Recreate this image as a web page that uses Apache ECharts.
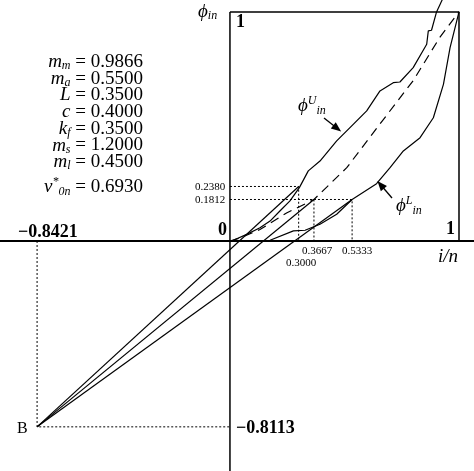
<!DOCTYPE html>
<html><head><meta charset="utf-8">
<script src="https://cdn.jsdelivr.net/npm/echarts@6/dist/echarts.min.js"></script>
<style>html,body{margin:0;padding:0;background:#fff}#c{width:474px;height:471px}</style>
</head><body><div id="c"></div>
<script>
// point B and the marked points
const pointB = [-0.8421, -0.8113]
const tangentPts = [[0.3000, 0.2380], [0.3667, 0.1812], [0.5333, 0.1812]]
// upper bound curve
const upperCurve = [[0,0],[0.015,0.003],[0.073,0.029],[0.131,0.058],[0.175,0.087],[0.218,0.131],[0.262,0.175],
  [0.303,0.233],[0.342,0.306],[0.393,0.349],[0.466,0.437],[0.524,0.495],[0.597,0.568],[0.655,0.655],
  [0.713,0.691],[0.742,0.694],[0.8,0.757],[0.859,0.859],[0.866,0.917],[0.88,0.92],[0.902,1.0]]
// middle (dashed) curve
const midCurve = [[0,0],[0.044,0.013],[0.131,0.05],[0.247,0.122],[0.3667,0.1812],[0.51,0.32],[0.655,0.511],
  [0.8,0.70],[0.917,0.89],[1,1]]
// lower bound curve
const lowerCurve = [[0,0],[0.175,0.003],[0.277,0.044],[0.328,0.047],[0.393,0.073],[0.466,0.117],[0.5333,0.1812],
  [0.64,0.25],[0.699,0.32],[0.757,0.393],[0.83,0.451],[0.888,0.538],[0.932,0.684],[0.961,0.844],[1,1]]
const params = [['m','m','0.9866'],['m','a','0.5500'],['L','','0.3500'],['c','','0.4000'],
  ['k','f','0.3500'],['m','s','1.2000'],['m','l','0.4500']]

const chart = echarts.init(document.getElementById('c'))
const serif = 'Liberation Serif'
const solid = {color:'#000', width:1.2}
function line(data, extra) {
  return Object.assign({type:'line', data, symbol:'none', silent:true, lineStyle:Object.assign({}, solid), z:3}, extra || {})
}
const series = [
  line([[-1.004,0],[1.0655,0]], {lineStyle:{color:'#000', width:2}}),
  line([[0,1],[0,-1.004]], {lineStyle:{color:'#000', width:1.5}}),
  line([[0,1],[1,1],[1,0]], {lineStyle:{color:'#000', width:1.5}}),
  line(upperCurve), line(lowerCurve),
  line(midCurve, {lineStyle:{color:'#000', width:1.2, type:[9,6]}}),
  line([[0.902,1.0],[0.93,1.06]])
]
tangentPts.forEach(p => series.push(line([pointB, p])))
// dotted guides
const dot = {color:'#000', width:1, type:[2,2]}
series.push(line([[pointB[0],0],pointB,[0,pointB[1]]], {lineStyle:dot}))
series.push(line([[0,0.2380],[0.3,0.2380],[0.3,0]], {lineStyle:dot}))
series.push(line([[0,0.1812],[0.5333,0.1812],[0.5333,0]], {lineStyle:dot}))
series.push(line([[0.3667,0.1812],[0.3667,0]], {lineStyle:dot}))

chart.setOption({
  animation:false,
  grid:{left:0,right:0,top:0,bottom:0},
  xAxis:{type:'value', min:-1.004, max:1.0655, show:false},
  yAxis:{type:'value', min:-1.004, max:1.052, show:false},
  series
})

const rich = {
  i:{fontFamily:serif, fontStyle:'italic', fontSize:19, color:'#000'},
  s:{fontFamily:serif, fontStyle:'italic', fontSize:12, color:'#000', verticalAlign:'bottom', padding:[8,0,0,0]},
  u:{fontFamily:serif, fontStyle:'italic', fontSize:12, color:'#000', padding:[0,0,10,0]},
  n:{fontFamily:serif, fontSize:19, color:'#000'}
}
const g = []
function txt(x, y, text, style) {
  g.push({type:'text', x, y, style:Object.assign({text, fontFamily:serif, fill:'#000', rich}, style)})
}
params.forEach((p, k) => {
  const s = `{i|${p[0]}}` + (p[1] ? `{s|${p[1]}}` : '') + `{n| = ${p[2]}}`
  txt(143, 62 + k * 16.7, s, {align:'right', verticalAlign:'middle'})
})
txt(143, 187, '{i|v}{u|*}{s|0n}{n| = 0.6930}', {align:'right', verticalAlign:'middle'})
txt(198, 12, '{i|ϕ}{s|in}', {verticalAlign:'middle'})
txt(236, 22, '1', {fontSize:18, fontWeight:'bold', verticalAlign:'middle'})
txt(446, 229, '1', {fontSize:18, fontWeight:'bold', verticalAlign:'middle'})
txt(218, 230, '0', {fontSize:18, fontWeight:'bold', verticalAlign:'middle'})
txt(18, 232, '\u22120.8421', {fontSize:18, fontWeight:'bold', verticalAlign:'middle'})
txt(236, 428, '\u22120.8113', {fontSize:18, fontWeight:'bold', verticalAlign:'middle'})
txt(17, 429, 'B', {fontSize:16, verticalAlign:'middle'})
txt(438, 257, '{i|i/n}', {verticalAlign:'middle'})
const small = {fontSize:11, verticalAlign:'middle'}
txt(195, 187, '0.2380', small)
txt(195, 200, '0.1812', small)
txt(302, 251, '0.3667', small)
txt(286, 263, '0.3000', small)
txt(342, 251, '0.5333', small)
txt(298, 106, '{i|ϕ}{u|U}{s|in}', {verticalAlign:'middle'})
txt(396, 206, '{i|ϕ}{u|L}{s|in}', {verticalAlign:'middle'})
const arrows = [[[324,118],[338,129]], [[392,198],[380,184]]]
arrows.forEach(a => {
  g.push({type:'line', shape:{x1:a[0][0], y1:a[0][1], x2:a[1][0], y2:a[1][1]}, style:{stroke:'#000', lineWidth:1.3}})
  const dx = a[1][0]-a[0][0], dy = a[1][1]-a[0][1], L = Math.hypot(dx,dy), ux = dx/L, uy = dy/L
  const tip = [a[1][0]+ux*4, a[1][1]+uy*4], bx = tip[0]-ux*10, by = tip[1]-uy*10
  g.push({type:'polygon', shape:{points:[tip,[bx-uy*4,by+ux*4],[bx+uy*4,by-ux*4]]}, style:{fill:'#000'}})
})
chart.setOption({graphic:g})
</script></body></html>
